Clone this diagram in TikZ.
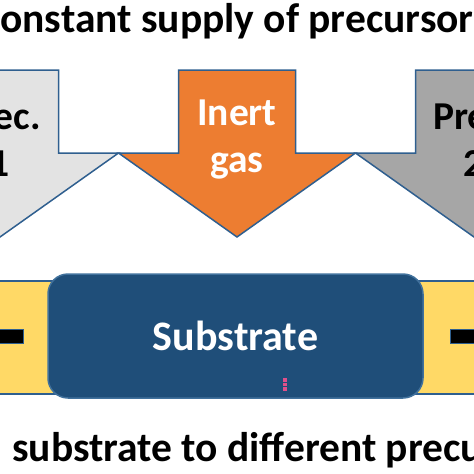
\documentclass[tikz,border=0pt]{standalone}
\usepackage{fontspec}
\setmainfont{Carlito}
\usetikzlibrary{positioning}
\definecolor{edgeblue}{HTML}{2F5F8F}
\definecolor{boxedge}{HTML}{41719C}
\definecolor{precone}{HTML}{E3E3E3}
\definecolor{inertorange}{HTML}{ED7D31}
\definecolor{prectwo}{HTML}{A6A6A6}
\definecolor{bandyellow}{HTML}{FFD966}
\definecolor{substrateblue}{HTML}{1F4E79}
\definecolor{markpink}{HTML}{E0508A}
\tikzset{
  feed/.style={draw=edgeblue, line width=1.5pt, line join=miter},
  feed label/.style={font=\bfseries\fontsize{39.5}{47}\selectfont,
    align=center, inner sep=0pt},
  caption/.style={font=\bfseries\fontsize{41.5}{48}\selectfont,
    inner sep=0pt},
  substrate box/.style={draw=boxedge, line width=1.5pt, fill=substrateblue,
    rounded corners=20pt, minimum width=375pt, minimum height=124pt,
    text=white, font=\bfseries\fontsize{42}{50}\selectfont},
  holder/.style={draw=edgeblue, line width=1pt, fill=black}
}
\begin{document}
\begin{tikzpicture}[x=1pt, y=-1pt]
  \useasboundingbox (0,0) rectangle (474,474);
  \node[caption, anchor=base] (title) at (234,32) {Constant supply of precursors};
%
  % precursor / purge feeds
  \foreach \cx/\col/\tcol/\lbl/\nm in {0/precone/black/{Prec.\\1}/precone,
      237/inertorange/white/{Inert\\gas}/inert,
      474/prectwo/black/{Prec.\\2}/prectwo}{
    \draw[feed, fill=\col] (\cx-58.5,70) -- (\cx+58.5,70) -- (\cx+58.5,153)
      -- (\cx+118.5,153) -- (\cx,237) -- (\cx-118.5,153) -- (\cx-58.5,153) -- cycle;
    \node[feed label, text=\tcol] (\nm) at (\cx,140) {\lbl};
  }
%
  % moving stage
  \draw[draw=edgeblue, line width=1.2pt, fill=bandyellow] (-5,281) rectangle (479,394);
  \draw[holder] (-5,329) rectangle (23,343);
  \draw[holder] (450,329) rectangle (479,343);
  \node[substrate box] (substrate) at (235.5,336) {Substrate};
  \foreach \yy in {378,382.5,387}
    \fill[markpink] (283,\yy) rectangle (287,\yy+3.5);
%
  \node[caption, anchor=base west] (footer) at (12,461) {substrate to different precursors};
\end{tikzpicture}
\end{document}
